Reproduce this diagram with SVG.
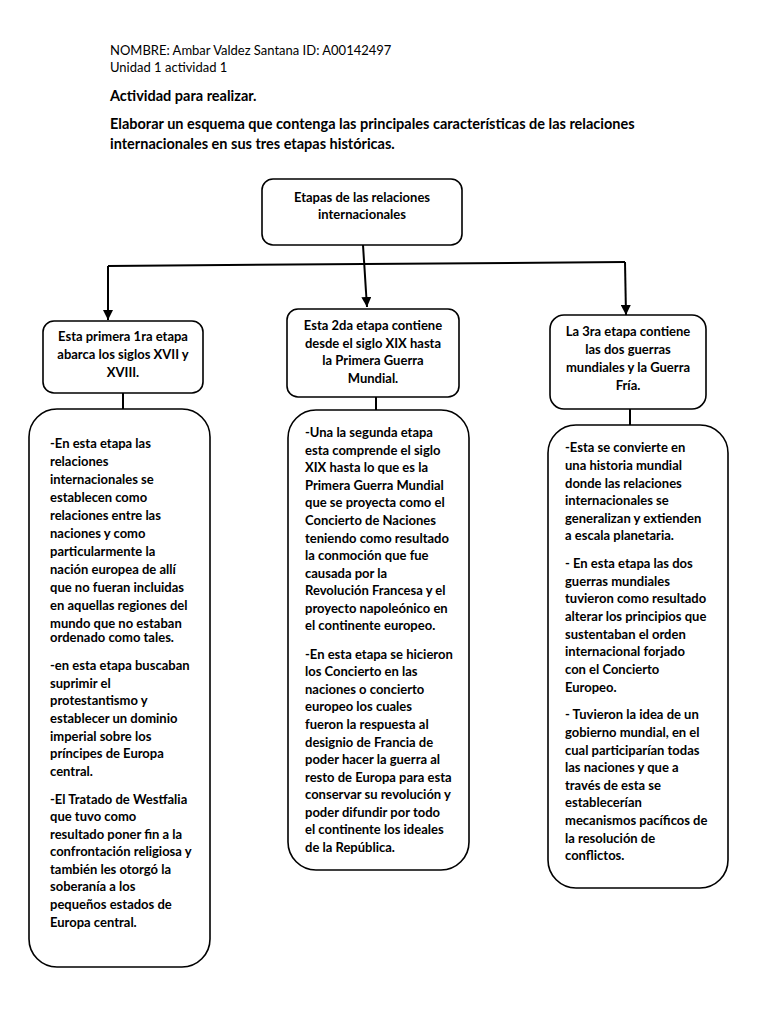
<svg xmlns="http://www.w3.org/2000/svg" width="768" height="1024" viewBox="0 0 768 1024">
<style>
.bg{fill:#ffffff}
.box{fill:#ffffff;stroke:#000000;stroke-width:1.6}
.conn{fill:none;stroke:#000000;stroke-width:2}
.hd{font-family:Lato,"Liberation Sans",sans-serif;font-size:13px;fill:#000000}
.hb{font-family:Lato,"Liberation Sans",sans-serif;font-size:14.5px;font-weight:bold;fill:#000000}
.t{font-family:Lato,"Liberation Sans",sans-serif;font-size:13px;font-weight:bold;fill:#000000}
.c{text-anchor:middle}
</style>
<defs>
<marker id="arr" viewBox="0 0 10 10" refX="10" refY="5" markerWidth="5" markerHeight="5" orient="auto" markerUnits="strokeWidth">
<path d="M0,0 L10,5 L0,10 Z" fill="#000000"/>
</marker>
</defs>
<rect class="bg" x="0" y="0" width="768" height="1024"/>

<g id="header">
<text class="hd" x="110" y="55">NOMBRE: Ambar Valdez Santana ID: A00142497</text>
<text class="hd" x="110" y="72">Unidad 1 actividad 1</text>
<text class="hb" x="110" y="101">Actividad para realizar.</text>
<text class="hb" x="110" y="129">Elaborar un esquema que contenga las principales características de las relaciones</text>
<text class="hb" x="110" y="149">internacionales en sus tres etapas históricas.</text>
</g>

<g id="connectors">
<path class="conn" d="M363,245 L367,307" marker-end="url(#arr)"/>
<path class="conn" d="M108,266 L625,262"/>
<path class="conn" d="M108,266 L108,320" marker-end="url(#arr)"/>
<path class="conn" d="M625,262 L626,315" marker-end="url(#arr)"/>
<path class="conn" d="M123,393 L123,409"/>
<path class="conn" d="M376,397 L376,410"/>
<path class="conn" d="M630,409 L630,425"/>
</g>

<g id="node-root">
<rect class="box" x="262" y="179" width="200" height="66" rx="11"/>
<text class="t c"><tspan x="362" y="202">Etapas de las relaciones</tspan><tspan x="362" y="219">internacionales</tspan></text>
</g>

<g id="node-etapa1">
<rect class="box" x="43" y="321" width="160" height="72" rx="11"/>
<text class="t c"><tspan x="123" y="341">Esta primera 1ra etapa</tspan><tspan x="123" y="359">abarca los siglos XVII y</tspan><tspan x="123" y="377">XVIII.</tspan></text>
</g>

<g id="node-etapa2">
<rect class="box" x="287" y="309" width="172" height="88" rx="11"/>
<text class="t c"><tspan x="373" y="330">Esta 2da etapa contiene</tspan><tspan x="373" y="348">desde el siglo XIX hasta</tspan><tspan x="373" y="365">la Primera Guerra</tspan><tspan x="373" y="383">Mundial.</tspan></text>
</g>

<g id="node-etapa3">
<rect class="box" x="550" y="315" width="156" height="94" rx="14"/>
<text class="t c"><tspan x="628" y="336">La 3ra etapa contiene</tspan><tspan x="628" y="354">las dos guerras</tspan><tspan x="628" y="372">mundiales y la Guerra</tspan><tspan x="628" y="390">Fría.</tspan></text>
</g>

<g id="node-detalle1">
<rect class="box" x="29" y="409" width="181" height="558" rx="28"/>
<text class="t">
<tspan x="50" y="448">-En esta etapa las</tspan>
<tspan x="50" y="466">relaciones</tspan>
<tspan x="50" y="484">internacionales se</tspan>
<tspan x="50" y="502">establecen como</tspan>
<tspan x="50" y="520">relaciones entre las</tspan>
<tspan x="50" y="538">naciones y como</tspan>
<tspan x="50" y="556">particularmente la</tspan>
<tspan x="50" y="574">nación europea de allí</tspan>
<tspan x="50" y="592">que no fueran incluidas</tspan>
<tspan x="50" y="610">en aquellas regiones del</tspan>
<tspan x="50" y="628">mundo que no estaban</tspan>
<tspan x="50" y="642">ordenado como tales.</tspan>
<tspan x="50" y="670">-en esta etapa buscaban</tspan>
<tspan x="50" y="688">suprimir el</tspan>
<tspan x="50" y="705">protestantismo y</tspan>
<tspan x="50" y="723">establecer un dominio</tspan>
<tspan x="50" y="741">imperial sobre los</tspan>
<tspan x="50" y="758">príncipes de Europa</tspan>
<tspan x="50" y="776">central.</tspan>
<tspan x="50" y="804">-El Tratado de Westfalia</tspan>
<tspan x="50" y="821">que tuvo como</tspan>
<tspan x="50" y="839">resultado poner fin a la</tspan>
<tspan x="50" y="856">confrontación religiosa y</tspan>
<tspan x="50" y="874">también les otorgó la</tspan>
<tspan x="50" y="891">soberanía a los</tspan>
<tspan x="50" y="909">pequeños estados de</tspan>
<tspan x="50" y="927">Europa central.</tspan>
</text>
</g>

<g id="node-detalle2">
<rect class="box" x="288" y="410" width="181" height="460" rx="28"/>
<text class="t">
<tspan x="305" y="437">-Una la segunda etapa</tspan>
<tspan x="305" y="455">esta comprende el siglo</tspan>
<tspan x="305" y="472">XIX hasta lo que es la</tspan>
<tspan x="305" y="490">Primera Guerra Mundial</tspan>
<tspan x="305" y="507">que se proyecta como el</tspan>
<tspan x="305" y="525">Concierto de Naciones</tspan>
<tspan x="305" y="543">teniendo como resultado</tspan>
<tspan x="305" y="560">la conmoción que fue</tspan>
<tspan x="305" y="578">causada por la</tspan>
<tspan x="305" y="595">Revolución Francesa y el</tspan>
<tspan x="305" y="613">proyecto napoleónico en</tspan>
<tspan x="305" y="630">el continente europeo.</tspan>
<tspan x="305" y="659">-En esta etapa se hicieron</tspan>
<tspan x="305" y="676">los Concierto en las</tspan>
<tspan x="305" y="694">naciones o concierto</tspan>
<tspan x="305" y="711">europeo los cuales</tspan>
<tspan x="305" y="729">fueron la respuesta al</tspan>
<tspan x="305" y="747">designio de Francia de</tspan>
<tspan x="305" y="764">poder hacer la guerra al</tspan>
<tspan x="305" y="782">resto de Europa para esta</tspan>
<tspan x="305" y="799">conservar su revolución y</tspan>
<tspan x="305" y="817">poder difundir por todo</tspan>
<tspan x="305" y="834">el continente los ideales</tspan>
<tspan x="305" y="852">de la República.</tspan>
</text>
</g>

<g id="node-detalle3">
<rect class="box" x="548" y="425" width="180" height="463" rx="28"/>
<text class="t">
<tspan x="565" y="452">-Esta se convierte en</tspan>
<tspan x="565" y="470">una historia mundial</tspan>
<tspan x="565" y="488">donde las relaciones</tspan>
<tspan x="565" y="505">internacionales se</tspan>
<tspan x="565" y="523">generalizan y extienden</tspan>
<tspan x="565" y="540">a escala planetaria.</tspan>
<tspan x="565" y="568">- En esta etapa las dos</tspan>
<tspan x="565" y="586">guerras mundiales</tspan>
<tspan x="565" y="603">tuvieron como resultado</tspan>
<tspan x="565" y="621">alterar los principios que</tspan>
<tspan x="565" y="639">sustentaban el orden</tspan>
<tspan x="565" y="656">internacional forjado</tspan>
<tspan x="565" y="674">con el Concierto</tspan>
<tspan x="565" y="692">Europeo.</tspan>
<tspan x="565" y="719">- Tuvieron la idea de un</tspan>
<tspan x="565" y="737">gobierno mundial, en el</tspan>
<tspan x="565" y="755">cual participarían todas</tspan>
<tspan x="565" y="772">las naciones y que a</tspan>
<tspan x="565" y="790">través de esta se</tspan>
<tspan x="565" y="807">establecerían</tspan>
<tspan x="565" y="825">mecanismos pacíficos de</tspan>
<tspan x="565" y="843">la resolución de</tspan>
<tspan x="565" y="860">conflictos.</tspan>
</text>
</g>
</svg>
